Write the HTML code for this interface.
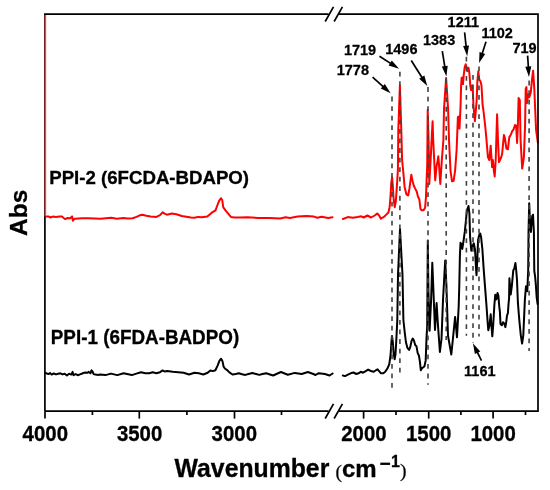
<!DOCTYPE html>
<html><head><meta charset="utf-8"><style>
html,body{margin:0;padding:0;background:#fff;}
svg{display:block;}
</style></head><body>
<svg width="550" height="490" viewBox="0 0 550 490">
<rect width="550" height="490" fill="#fff"/>
<polyline points="45.6,216.4 48.4,216.4 50.5,217.5 52.7,216.6 56.0,216.9 59.3,216.6 62.0,216.6 63.6,218.0 65.3,219.1 67.5,218.0 70.2,218.3 72.1,216.4 72.9,220.7 74.5,218.8 82.2,218.3 88.0,218.2 95.0,218.5 100.5,218.8 105.9,218.3 111.4,217.8 116.8,218.8 123.4,218.0 127.7,218.5 132.6,218.3 136.5,216.9 139.7,215.3 142.5,214.7 146.3,215.8 150.6,216.6 156.4,216.9 160.0,215.1 162.7,212.2 164.5,213.6 166.9,214.7 171.8,213.6 176.4,214.2 181.8,216.0 190.9,217.6 194.5,217.8 198.2,216.9 201.8,217.3 207.3,216.5 211.8,212.7 215.5,210.4 217.3,205.5 219.1,200.9 220.9,198.2 222.2,200.0 223.3,207.3 225.5,210.4 228.2,213.6 230.9,216.9 234.5,217.6 240.0,217.6 247.5,217.3 258.4,217.9 269.3,217.9 280.2,218.4 285.6,217.3 290.0,217.9 297.6,216.6 306.4,216.0 314.0,216.6 317.3,217.7 321.6,216.8 328.2,217.9 332.5,217.3" fill="none" stroke="#ff0000" stroke-width="2" stroke-linejoin="round" stroke-linecap="round"/>
<polyline points="342.9,219.0 347.8,217.1 352.7,217.8 357.6,217.1 361.3,216.3 363.7,217.5 367.4,215.5 371.1,217.5 374.7,215.5 377.2,213.5 379.0,215.3 380.9,218.7 384.5,216.5 385.2,215.6 388.4,212.5 389.6,207.2 390.5,196.5 391.3,182.7 392.1,177.4 392.8,185.9 393.7,199.7 394.7,207.2 395.8,201.8 396.9,185.9 397.9,170.0 398.3,130.0 399.9,85.6 401.3,130.0 402.1,160.0 403.3,172.2 404.6,186.9 406.4,194.3 408.2,195.5 409.5,188.2 411.3,174.7 412.5,180.8 413.8,185.7 415.6,189.4 416.8,191.8 418.0,196.7 419.3,199.2 420.5,209.0 421.7,210.2 423.6,210.2 425.1,207.8 426.0,196.7 426.6,180.0 427.2,166.1 427.7,110.1 428.6,140.0 429.3,183.9 430.6,160.4 431.6,140.0 432.6,121.3 433.2,140.0 435.2,180.3 436.7,165.5 437.4,161.9 438.3,156.3 439.0,164.5 440.3,183.9 441.8,160.4 443.4,140.0 444.0,109.0 446.1,78.0 448.1,109.0 449.0,140.0 450.5,170.6 452.0,181.3 453.6,180.8 455.1,170.6 456.6,150.2 457.9,117.1 458.7,116.5 459.5,128.6 460.6,105.0 461.1,85.6 461.6,78.0 462.7,77.4 463.0,84.1 463.7,75.4 464.7,67.2 465.7,64.2 466.7,68.3 467.4,71.3 468.5,67.8 469.3,72.3 470.3,85.6 471.1,90.2 472.1,85.6 472.9,90.7 473.4,105.0 474.9,121.1 476.7,100.0 477.4,80.5 478.3,71.3 479.3,79.5 480.5,81.5 481.5,85.6 482.6,105.0 483.5,111.0 485.2,126.0 486.4,138.6 487.9,157.1 489.3,160.0 490.7,145.7 491.4,157.1 492.1,167.1 492.9,160.0 493.9,171.4 494.7,176.4 495.7,160.0 497.1,114.3 497.9,138.6 499.0,162.1 500.7,158.6 502.1,154.3 503.9,135.0 505.0,138.6 506.4,148.6 507.9,149.3 509.3,137.1 510.7,135.0 512.1,131.4 513.6,129.3 515.0,125.0 516.1,125.7 517.1,142.9 517.9,124.3 518.6,97.9 519.8,100.0 520.6,140.8 522.2,168.6 523.9,157.1 525.1,124.5 525.7,88.6 526.4,87.1 527.1,102.9 528.1,94.3 529.3,97.1 530.7,92.9 532.1,78.6 533.1,70.7 534.3,88.6 535.2,110.0 536.1,130.0 537.8,142.4" fill="none" stroke="#ff0000" stroke-width="2" stroke-linejoin="round" stroke-linecap="round"/>
<polyline points="45.6,373.0 48.4,374.1 50.0,373.0 51.6,374.6 53.8,373.5 56.0,374.4 58.2,373.8 60.4,373.3 62.5,374.4 64.7,373.8 66.9,375.5 69.1,373.8 71.3,374.6 72.6,371.9 73.5,375.2 75.6,374.1 77.8,375.2 80.0,374.4 81.6,373.8 83.3,373.0 85.5,372.5 87.6,372.7 88.7,371.9 90.4,373.3 91.5,370.3 92.5,371.4 93.6,374.1 95.3,374.6 98.5,374.9 100.0,374.5 105.5,375.1 110.9,373.6 117.3,375.1 123.6,373.3 131.8,375.1 136.4,373.6 140.9,372.2 145.5,373.3 149.1,373.3 152.7,372.2 156.4,373.3 160.0,372.2 162.7,370.4 164.5,371.5 167.3,370.9 172.7,371.8 178.2,372.2 183.6,372.7 189.1,374.5 194.5,372.7 198.8,373.3 203.3,374.5 207.7,372.7 210.3,370.5 212.8,371.1 215.4,370.2 217.7,365.4 219.4,360.9 221.1,358.7 222.4,360.9 223.6,366.6 224.9,368.5 226.8,369.8 229.4,372.4 232.5,374.5 235.7,374.0 238.9,373.3 242.1,374.3 245.3,374.9 248.5,374.0 252.3,373.0 256.1,374.0 259.3,374.9 262.5,374.0 266.2,373.2 273.1,375.5 280.9,372.0 287.8,374.7 294.8,372.9 301.7,374.0 307.9,372.0 313.3,374.0 315.6,375.0 318.7,373.2 324.9,374.0 329.6,375.5 332.6,373.5" fill="none" stroke="#000" stroke-width="2" stroke-linejoin="round" stroke-linecap="round"/>
<polyline points="342.8,375.5 345.1,376.1 347.9,374.7 350.7,373.3 353.5,372.5 356.3,374.0 358.5,373.3 360.8,371.8 363.0,372.7 365.3,371.3 368.1,369.6 370.9,371.0 373.7,371.8 376.0,370.2 377.6,369.3 379.3,371.3 381.0,373.3 383.3,373.3 385.0,372.0 387.5,368.4 389.3,364.1 390.6,354.3 391.6,339.6 392.0,335.9 392.8,342.0 393.6,353.1 394.6,359.2 395.5,354.3 396.4,338.4 397.3,320.0 398.0,275.0 400.0,229.1 402.5,275.0 403.4,320.0 404.7,332.2 405.9,342.0 407.3,347.6 409.1,350.0 410.3,346.9 411.6,340.8 412.8,338.6 414.0,340.8 415.2,345.1 416.5,346.3 417.7,353.1 418.9,355.5 419.9,361.6 420.8,370.2 421.4,369.0 422.6,367.8 424.4,366.5 425.7,360.4 426.5,338.4 427.2,326.1 427.8,240.4 428.4,290.0 429.6,330.8 431.1,300.0 432.3,262.7 433.8,300.0 435.0,330.0 436.6,303.1 437.8,322.7 439.9,352.0 441.5,339.0 443.0,300.0 445.2,260.5 446.4,285.0 448.0,335.7 451.3,354.5 452.9,339.0 455.1,316.9 457.0,337.3 458.7,306.3 459.3,285.0 459.9,255.6 460.5,242.8 461.4,244.0 462.3,248.9 463.6,240.3 464.8,231.7 465.8,221.9 466.6,213.4 467.2,209.7 468.5,206.0 469.4,213.4 470.1,237.2 471.3,250.7 472.6,245.8 473.8,243.4 475.0,249.5 476.0,267.9 476.5,275.2 477.2,261.7 478.1,239.7 479.3,234.8 480.2,233.6 481.1,237.2 482.4,249.5 483.6,267.9 484.8,283.8 486.4,304.5 487.7,322.9 488.3,330.2 489.5,325.3 490.7,314.3 491.3,324.1 492.3,336.3 493.2,325.3 494.4,304.5 495.3,294.7 495.9,299.6 496.9,298.4 497.5,292.9 498.4,295.9 499.3,306.9 499.9,311.8 500.5,324.1 501.8,325.3 503.0,322.2 504.2,323.5 505.4,327.1 506.3,321.6 507.0,315.5 507.9,313.1 508.5,304.5 509.1,297.8 509.4,278.2 510.7,294.5 511.8,286.3 513.3,270.2 514.3,268.6 515.4,262.9 516.2,270.2 517.0,280.0 517.9,302.7 519.2,319.0 520.8,335.3 522.1,343.5 523.3,335.3 524.9,299.4 526.0,286.3 527.3,291.2 528.2,270.0 528.5,232.7 529.2,203.3 530.1,224.5 530.9,232.0 532.2,216.3 533.0,214.7 533.9,232.0 534.1,255.0 534.3,271.0 535.1,276.4 535.9,285.4 536.7,297.7 537.6,304.0" fill="none" stroke="#000" stroke-width="2" stroke-linejoin="round" stroke-linecap="round"/>
<line x1="392.0" y1="96.6" x2="392.0" y2="387.8" stroke="#404040" stroke-width="1.6" stroke-dasharray="4.8 4.75"/>
<line x1="399.9" y1="71.7" x2="399.9" y2="372.8" stroke="#404040" stroke-width="1.6" stroke-dasharray="4.8 4.75"/>
<line x1="428.0" y1="87.1" x2="428.0" y2="384.7" stroke="#404040" stroke-width="1.6" stroke-dasharray="4.8 4.75"/>
<line x1="446.2" y1="78.2" x2="446.2" y2="340.0" stroke="#404040" stroke-width="1.6" stroke-dasharray="4.8 4.75"/>
<line x1="466.4" y1="56.8" x2="466.4" y2="335.8" stroke="#404040" stroke-width="1.6" stroke-dasharray="4.8 4.75"/>
<line x1="473.0" y1="75.0" x2="473.0" y2="343.0" stroke="#404040" stroke-width="1.6" stroke-dasharray="4.8 4.75"/>
<line x1="479.0" y1="66.4" x2="479.0" y2="336.6" stroke="#404040" stroke-width="1.6" stroke-dasharray="4.8 4.75"/>
<line x1="529.1" y1="80.6" x2="529.1" y2="351.1" stroke="#404040" stroke-width="1.6" stroke-dasharray="4.8 4.75"/>
<path d="M44.9,411.2 L44.9,14.2 L328.6,14.2 M339,14.2 L538.0,14.2 L538.0,411.2 L339,411.2 M328.6,411.2 L44.9,411.2" fill="none" stroke="#000" stroke-width="1.7" stroke-linejoin="miter"/>
<rect x="44.05" y="15.0" width="1.0" height="201.4" fill="#7a1f1f"/>
<rect x="45.05" y="15.0" width="1.1" height="201.4" fill="#d9555a"/>
<line x1="325.20" y1="21.5" x2="333.50" y2="6.9" stroke="#000" stroke-width="1.7"/>
<line x1="334.15" y1="21.5" x2="342.45" y2="6.9" stroke="#000" stroke-width="1.7"/>
<line x1="325.20" y1="418.5" x2="333.50" y2="403.9" stroke="#000" stroke-width="1.7"/>
<line x1="334.15" y1="418.5" x2="342.45" y2="403.9" stroke="#000" stroke-width="1.7"/>
<line x1="45" y1="411.2" x2="45" y2="418.6" stroke="#000" stroke-width="1.7"/>
<line x1="139.3" y1="411.2" x2="139.3" y2="418.6" stroke="#000" stroke-width="1.7"/>
<line x1="234.5" y1="411.2" x2="234.5" y2="418.6" stroke="#000" stroke-width="1.7"/>
<line x1="363.6" y1="411.2" x2="363.6" y2="418.6" stroke="#000" stroke-width="1.7"/>
<line x1="428.7" y1="411.2" x2="428.7" y2="418.6" stroke="#000" stroke-width="1.7"/>
<line x1="493.1" y1="411.2" x2="493.1" y2="418.6" stroke="#000" stroke-width="1.7"/>
<line x1="92.4" y1="411.2" x2="92.4" y2="415.0" stroke="#000" stroke-width="1.7"/>
<line x1="186.9" y1="411.2" x2="186.9" y2="415.0" stroke="#000" stroke-width="1.7"/>
<line x1="281.5" y1="411.2" x2="281.5" y2="415.0" stroke="#000" stroke-width="1.7"/>
<line x1="396" y1="411.2" x2="396" y2="415.0" stroke="#000" stroke-width="1.7"/>
<line x1="460.9" y1="411.2" x2="460.9" y2="415.0" stroke="#000" stroke-width="1.7"/>
<line x1="525.5" y1="411.2" x2="525.5" y2="415.0" stroke="#000" stroke-width="1.7"/>
<line x1="372.6" y1="77.2" x2="385.9" y2="89.1" stroke="#000" stroke-width="1.7"/><polygon points="390.6,93.3 380.8,88.5 384.8,84.1" fill="#000"/>
<line x1="379.5" y1="56.2" x2="393.7" y2="65.4" stroke="#000" stroke-width="1.7"/><polygon points="399.0,68.8 388.6,65.6 391.8,60.6" fill="#000"/>
<line x1="411.3" y1="60.5" x2="424.0" y2="80.7" stroke="#000" stroke-width="1.7"/><polygon points="427.3,86.0 419.2,78.7 424.3,75.5" fill="#000"/>
<line x1="442.3" y1="51.1" x2="445.4" y2="70.3" stroke="#000" stroke-width="1.7"/><polygon points="446.4,76.5 441.8,66.6 447.7,65.7" fill="#000"/>
<line x1="464.6" y1="32.4" x2="466.5" y2="49.9" stroke="#000" stroke-width="1.7"/><polygon points="467.2,56.2 463.1,46.1 469.0,45.4" fill="#000"/>
<line x1="486.0" y1="41.8" x2="481.1" y2="56.9" stroke="#000" stroke-width="1.7"/><polygon points="479.1,62.9 479.5,52.0 485.2,53.9" fill="#000"/>
<line x1="527.6" y1="55.6" x2="528.6" y2="70.7" stroke="#000" stroke-width="1.7"/><polygon points="529.0,77.0 525.3,66.7 531.3,66.3" fill="#000"/>
<line x1="481.5" y1="360.6" x2="475.7" y2="348.9" stroke="#000" stroke-width="1.7"/><polygon points="472.9,343.3 480.3,351.4 474.9,354.0" fill="#000"/>
<text transform="translate(45.30,440.60) scale(1,1.05)" font-family="Liberation Sans, Arial, sans-serif" font-weight="bold" font-size="20.4" text-anchor="middle" stroke="#000" stroke-width="0.3">4000</text>
<text transform="translate(139.60,440.60) scale(1,1.05)" font-family="Liberation Sans, Arial, sans-serif" font-weight="bold" font-size="20.4" text-anchor="middle" stroke="#000" stroke-width="0.3">3500</text>
<text transform="translate(234.30,440.60) scale(1,1.05)" font-family="Liberation Sans, Arial, sans-serif" font-weight="bold" font-size="20.4" text-anchor="middle" stroke="#000" stroke-width="0.3">3000</text>
<text transform="translate(363.90,440.60) scale(1,1.05)" font-family="Liberation Sans, Arial, sans-serif" font-weight="bold" font-size="20.4" text-anchor="middle" stroke="#000" stroke-width="0.3">2000</text>
<text transform="translate(428.70,440.60) scale(1,1.05)" font-family="Liberation Sans, Arial, sans-serif" font-weight="bold" font-size="20.4" text-anchor="middle" stroke="#000" stroke-width="0.3">1500</text>
<text transform="translate(493.10,440.60) scale(1,1.05)" font-family="Liberation Sans, Arial, sans-serif" font-weight="bold" font-size="20.4" text-anchor="middle" stroke="#000" stroke-width="0.3">1000</text>
<text transform="translate(336.70,75.00) scale(1,1.05)" font-family="Liberation Sans, Arial, sans-serif" font-weight="bold" font-size="14.5" stroke="#000" stroke-width="0.25">1778</text>
<text transform="translate(343.90,54.80) scale(1,1.05)" font-family="Liberation Sans, Arial, sans-serif" font-weight="bold" font-size="14.5" stroke="#000" stroke-width="0.25">1719</text>
<text transform="translate(385.20,53.90) scale(1,1.05)" font-family="Liberation Sans, Arial, sans-serif" font-weight="bold" font-size="14.5" stroke="#000" stroke-width="0.25">1496</text>
<text transform="translate(423.00,45.10) scale(1,1.05)" font-family="Liberation Sans, Arial, sans-serif" font-weight="bold" font-size="14.5" stroke="#000" stroke-width="0.25">1383</text>
<text transform="translate(447.60,27.40) scale(1,1.05)" font-family="Liberation Sans, Arial, sans-serif" font-weight="bold" font-size="14.5" stroke="#000" stroke-width="0.25">1211</text>
<text transform="translate(481.40,38.20) scale(1,1.05)" font-family="Liberation Sans, Arial, sans-serif" font-weight="bold" font-size="14.5" stroke="#000" stroke-width="0.25">1102</text>
<text transform="translate(512.40,52.90) scale(1,1.05)" font-family="Liberation Sans, Arial, sans-serif" font-weight="bold" font-size="14.5" stroke="#000" stroke-width="0.25">719</text>
<text transform="translate(464.10,376.00) scale(1,1.05)" font-family="Liberation Sans, Arial, sans-serif" font-weight="bold" font-size="14.5" stroke="#000" stroke-width="0.25">1161</text>
<text transform="translate(49.20,183.90) scale(1,1.03)" font-family="Liberation Sans, Arial, sans-serif" font-weight="bold" font-size="18.65" stroke="#000" stroke-width="0.3">PPI-2 (6FCDA-BDAPO)</text>
<text transform="translate(50.80,344.30) scale(1,1.03)" font-family="Liberation Sans, Arial, sans-serif" font-weight="bold" font-size="18.85" stroke="#000" stroke-width="0.3">PPI-1 (6FDA-BADPO)</text>
<text transform="translate(27.0,236) rotate(-90)" font-family="Liberation Sans, Arial, sans-serif" font-weight="bold" font-size="24.5" stroke="#000" stroke-width="0.3">Abs</text>
<text transform="translate(174.60,477.20) scale(1,1.02)" font-family="Liberation Sans, Arial, sans-serif" font-weight="bold" font-size="24.8" stroke="#000" stroke-width="0.3">Wavenumber</text>
<text transform="translate(335.40,477.90) scale(1,1.0)" font-family="Liberation Serif, serif" font-size="19.5" stroke="#000" stroke-width="0.25">(</text>
<text transform="translate(341.90,477.30) scale(1,1.0)" font-family="Liberation Sans, Arial, sans-serif" font-weight="bold" font-size="24.0" stroke="#000" stroke-width="0.3">cm</text>
<text transform="translate(379.40,469.80) scale(1,1.0)" font-family="Liberation Sans, Arial, sans-serif" font-weight="bold" font-size="19" stroke="#000" stroke-width="0.3">&#8722;</text>
<text transform="translate(390.90,467.40) scale(1,1.0)" font-family="Liberation Sans, Arial, sans-serif" font-weight="bold" font-size="16.0" stroke="#000" stroke-width="0.3">1</text>
<text transform="translate(400.00,477.10) scale(1,1.0)" font-family="Liberation Serif, serif" font-size="19.5" stroke="#000" stroke-width="0.25">)</text>
</svg>
</body></html>
